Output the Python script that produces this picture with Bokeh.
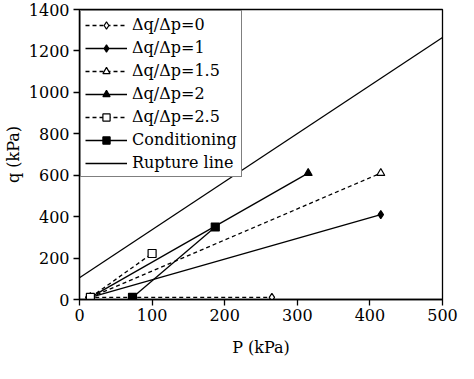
from bokeh.plotting import figure
from bokeh.models import Range1d, FixedTicker, Legend
from bokeh.embed import file_html
from bokeh.resources import INLINE

# Data
p0 = [12, 265];  q0 = [10, 10]        # dq/dp = 0
p1 = [15, 415];  q1 = [10, 410]       # dq/dp = 1
p15 = [15, 415]; q15 = [10, 610]      # dq/dp = 1.5
p2 = [15, 315];  q2 = [10, 610]       # dq/dp = 2
p25 = [15, 100]; q25 = [10, 222]      # dq/dp = 2.5
pc = [73, 187];  qc = [10, 350]       # Conditioning
pr = [0, 500];   qr = [105, 1265]     # Rupture line

x_ticks = [0, 100, 200, 300, 400, 500]
y_ticks = [0, 200, 400, 600, 800, 1000, 1200, 1400]

FONT = "DejaVu Serif"
FS = "16px"

p = figure(width=458, height=363, output_backend="svg", toolbar_location=None,
           x_range=Range1d(0, 500), y_range=Range1d(0, 1400),
           min_border_left=77, min_border_right=16, min_border_top=9, min_border_bottom=64)

p.xgrid.visible = False
p.ygrid.visible = False
p.outline_line_color = "black"
p.outline_line_width = 1.3
p.background_fill_color = "white"
p.border_fill_color = "white"

for ax in (p.xaxis[0], p.yaxis[0]):
    ax.axis_line_color = "black"
    ax.axis_line_width = 1.3
    ax.major_tick_line_color = "black"
    ax.major_tick_line_width = 1.3
    ax.major_tick_out = 6
    ax.major_tick_in = 0
    ax.minor_tick_line_color = None
    ax.major_label_text_font = FONT
    ax.major_label_text_font_size = FS
    ax.major_label_text_color = "black"
    ax.axis_label_text_font = FONT
    ax.axis_label_text_font_size = FS
    ax.axis_label_text_font_style = "normal"
    ax.axis_label_text_color = "black"

p.xaxis.ticker = FixedTicker(ticks=x_ticks)
p.yaxis.ticker = FixedTicker(ticks=y_ticks)
p.xaxis.axis_label = "P (kPa)"
p.yaxis.axis_label = "q (kPa)"
p.xaxis.major_label_standoff = 3
p.yaxis.major_label_standoff = 4
p.xaxis.axis_label_standoff = 14
p.yaxis.axis_label_standoff = 3

DASH = "4 3"
items = []

def series(px, qy, marker, fill, dash, label):
    r1 = p.line(px, qy, line_color="black", line_width=1.3, line_dash=dash)
    r2 = p.scatter(px, qy, marker=marker, size=8, line_color="black",
                   fill_color=fill, line_width=1.2)
    items.append((label, [r1, r2]))

series(p0, q0, "diamond", "white", DASH, "Δq/Δp=0")
series(p1, q1, "diamond", "black", "solid", "Δq/Δp=1")
series(p15, q15, "triangle", "white", DASH, "Δq/Δp=1.5")
series(p2, q2, "triangle", "black", "solid", "Δq/Δp=2")
series(p25, q25, "square", "white", DASH, "Δq/Δp=2.5")
series(pc, qc, "square", "black", "solid", "Conditioning")
rr = p.line(pr, qr, line_color="black", line_width=1.3)
items.append(("Rupture line", [rr]))

legend = Legend(items=items, location="top_left")
legend.label_text_font = FONT
legend.label_text_font_size = FS
legend.label_text_color = "black"
legend.glyph_width = 42
legend.glyph_height = 18
legend.label_height = 18
legend.spacing = 4
legend.padding = 4
legend.margin = 1
legend.label_standoff = 5
legend.border_line_color = "black"
legend.border_line_width = 1.2
legend.background_fill_alpha = 1
p.add_layout(legend)

open("out.html", "w").write(file_html(p, INLINE))
